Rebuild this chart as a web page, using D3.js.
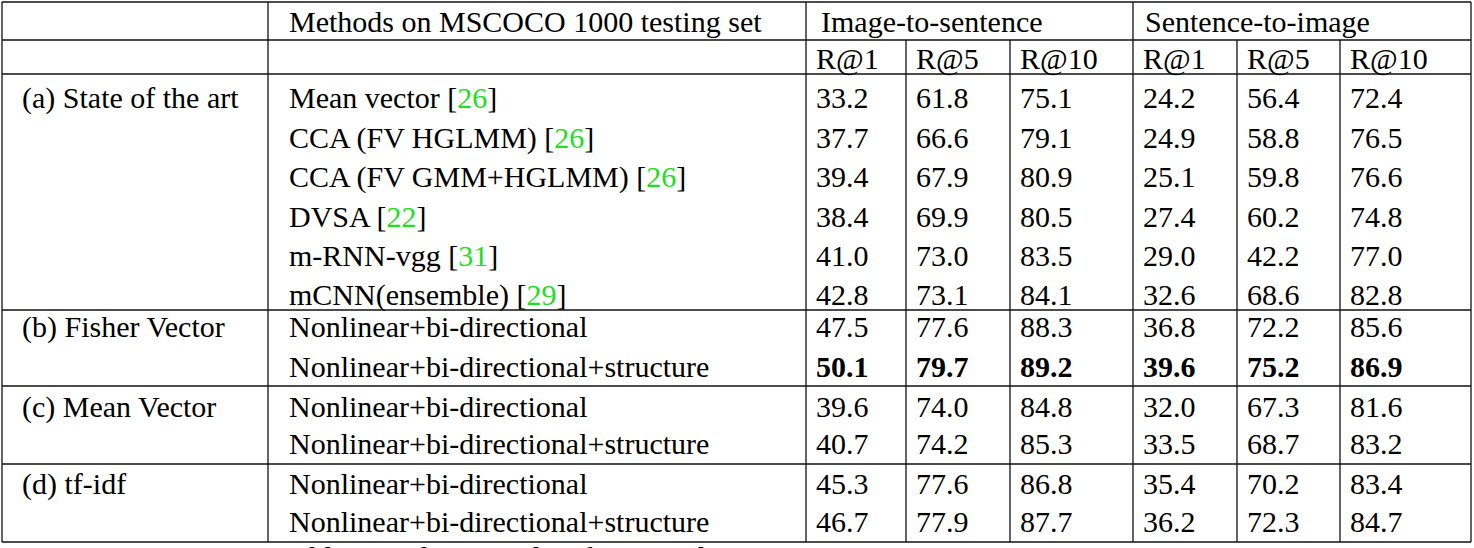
<!DOCTYPE html>
<html><head><meta charset="utf-8">
<script src="https://cdn.jsdelivr.net/npm/d3@7"></script>
<style>body{margin:0;background:#fff}</style>
</head><body>
<div id="chart"></div>
<script>
const groups = ["(a) State of the art", "(b) Fisher Vector", "(c) Mean Vector", "(d) tf-idf"];
const groupSizes = [6, 2, 2, 2];
const methods = [
  ["Mean vector [", "26", "]"],
  ["CCA (FV HGLMM) [", "26", "]"],
  ["CCA (FV GMM+HGLMM) [", "26", "]"],
  ["DVSA [", "22", "]"],
  ["m-RNN-vgg [", "31", "]"],
  ["mCNN(ensemble) [", "29", "]"],
  ["Nonlinear+bi-directional"],
  ["Nonlinear+bi-directional+structure"],
  ["Nonlinear+bi-directional"],
  ["Nonlinear+bi-directional+structure"],
  ["Nonlinear+bi-directional"],
  ["Nonlinear+bi-directional+structure"]
];
const metrics = ["R@1", "R@5", "R@10", "R@1", "R@5", "R@10"];
const values = [
  ["33.2","61.8","75.1","24.2","56.4","72.4"],
  ["37.7","66.6","79.1","24.9","58.8","76.5"],
  ["39.4","67.9","80.9","25.1","59.8","76.6"],
  ["38.4","69.9","80.5","27.4","60.2","74.8"],
  ["41.0","73.0","83.5","29.0","42.2","77.0"],
  ["42.8","73.1","84.1","32.6","68.6","82.8"],
  ["47.5","77.6","88.3","36.8","72.2","85.6"],
  ["50.1","79.7","89.2","39.6","75.2","86.9"],
  ["39.6","74.0","84.8","32.0","67.3","81.6"],
  ["40.7","74.2","85.3","33.5","68.7","83.2"],
  ["45.3","77.6","86.8","35.4","70.2","83.4"],
  ["46.7","77.9","87.7","36.2","72.3","84.7"]
];
const boldRows = [7];

const W = 1474, H = 548;
const svg = d3.select("#chart").append("svg").attr("width", W).attr("height", H)
  .style("font-family", "'Liberation Serif', 'DejaVu Serif', serif").style("font-size", "30px");

const colX = [2, 268, 806, 906, 1010, 1133, 1237, 1340, 1471];
const hLines = [2, 40, 74, 310, 386, 464, 542];
const rowY = [97, 137, 176, 216, 255, 294, 326, 366, 406, 443, 483, 521];
const line = (x1, y1, x2, y2) => svg.append("line").attr("x1", x1).attr("y1", y1).attr("x2", x2).attr("y2", y2)
  .attr("stroke", "#111").attr("stroke-width", 1.3);

hLines.forEach(y => line(colX[0], y, colX[8], y));
[0, 1, 2, 5, 8].forEach(i => line(colX[i], hLines[0], colX[i], hLines[6]));
[3, 4, 6, 7].forEach(i => line(colX[i], hLines[1], colX[i], hLines[6]));

const txt = (x, y, s) => svg.append("text").attr("x", x).attr("y", y).attr("dy", "0.35em").text(s);
txt(289, 21, "Methods on MSCOCO 1000 testing set");
txt(821, 21, "Image-to-sentence");
txt(1145, 21, "Sentence-to-image");
metrics.forEach((m, i) => txt(colX[i + 2] + 10, 58, m));

let r = 0;
groups.forEach((g, gi) => { txt(22, rowY[r], g); r += groupSizes[gi]; });

methods.forEach((m, i) => {
  const t = txt(289, rowY[i], m[0]);
  if (m.length > 1) {
    t.append("tspan").attr("fill", "#22dd22").text(m[1]);
    t.append("tspan").text(m[2]);
  }
});
values.forEach((row, i) => row.forEach((v, j) => {
  txt(colX[j + 2] + 10, rowY[i], v).attr("font-weight", boldRows.includes(i) ? "bold" : null);
}));

svg.append("text").attr("x", 280).attr("y", 567)
  .text("Table 3: Bidirectional ranking results on MSCOCO 1000 images.");
</script>
</body></html>
